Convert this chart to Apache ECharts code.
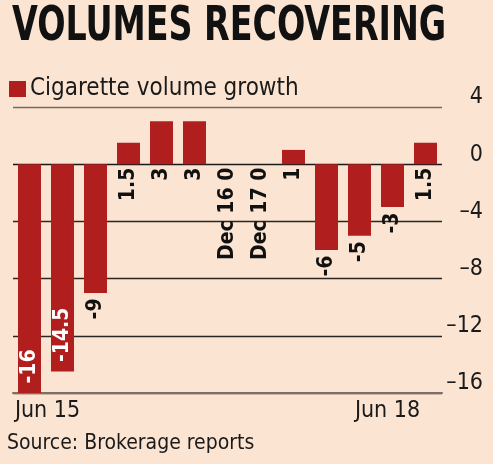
<!DOCTYPE html>
<html><head><meta charset="utf-8">
<script src="https://cdn.jsdelivr.net/npm/echarts@6/dist/echarts.min.js"></script>
<style>html,body{margin:0;padding:0;background:#fbe4d2;}#c{width:493px;height:464px;}</style>
</head><body><div id="c"></div>
<script>
const periods = ['Jun 15','Sep 15','Dec 15','Mar 16','Jun 16','Sep 16','Dec 16','Mar 17','Jun 17','Sep 17','Dec 17','Mar 18','Jun 18'];
const xTickLabels = ['Jun 15','','','','','','','','','','','','Jun 18'];
const growth = [-16, -14.5, -9, 1.5, 3, 3, 0, 0, 1, -6, -5, -3, 1.5];
const barLabels = ['-16','-14.5','-9','1.5','3','3','Dec 16 0','Dec 17 0','1','-6','-5','-3','1.5'];
const yTicks = [4, 0, -4, -8, -12, -16];

const NARROW = '"Liberation Sans Narrow","DejaVu Sans Condensed","Roboto Condensed",Roboto,sans-serif';
const LABELF = '"DejaVu Sans Condensed","DejaVu Sans",sans-serif';
const RED = '#b01f1d';

const labelData = growth.map((v, i) => {
  const inside = v <= -14;
  const outsideNeg = v < 0 && !inside;
  return {
    value: [i, Math.min(v, 0)],
    label: {
      show: true,
      formatter: barLabels[i],
      rotate: 90,
      position: inside ? 'top' : 'bottom',
      distance: inside ? 9 : (outsideNeg ? 5 : 3),
      align: inside ? 'left' : 'right',
      verticalAlign: 'middle',
      color: inside ? '#ffffff' : '#111111',
      fontFamily: LABELF,
      fontSize: 21,
      fontWeight: 'bold'
    }
  };
});

const chart = echarts.init(document.getElementById('c'));
chart.setOption({
  backgroundColor: '#fbe4d2',
  animation: false,
  title: [
    { text: 'Source: Brokerage reports', left: 2, top: 428,
      textStyle: { fontFamily: NARROW, fontSize: 21, fontWeight: 'normal', color: '#1a1a1a' } }
  ],
  graphic: [
    { type: 'text', x: 12, y: 4, scaleX: 0.772, silent: true,
      style: { text: 'VOLUMES RECOVERING', fontFamily: NARROW, fontSize: 48, fontWeight: 'bold',
               fill: '#111', align: 'left', verticalAlign: 'top' } }
  ],
  legend: {
    left: 4, top: 72, icon: 'rect', itemWidth: 17, itemHeight: 16, itemGap: 6,
    textStyle: { fontFamily: NARROW, fontSize: 24, color: '#1a1a1a', padding: [0,0,0,-1] },
    data: ['Cigarette volume growth']
  },
  grid: { left: 13, right: 51, top: 107, bottom: 71, containLabel: false },
  xAxis: {
    type: 'category', data: periods,
    axisLine: { onZero: false, lineStyle: { color: '#7d6f66', width: 2 } },
    axisTick: { show: false },
    axisLabel: {
      interval: 0, margin: 7,
      formatter: (val, idx) => {
        const t = xTickLabels[idx];
        if (!t) return '';
        return idx === 0 ? '{a|' + t + '}' : '{b|' + t + '}';
      },
      rich: {
        a: { fontFamily: NARROW, fontSize: 23, color: '#1a1a1a', padding: [0,0,0,36] },
        b: { fontFamily: NARROW, fontSize: 23, color: '#1a1a1a', padding: [0,76,0,0] }
      }
    }
  },
  yAxis: {
    type: 'value', position: 'right', min: -16, max: 4, interval: 4,
    axisLine: { show: false }, axisTick: { show: false },
    splitLine: { show: true, lineStyle: {
      color: ['#3b302a','#2b2522','#2b2522','#2b2522','#1a1a1a','#7a6a5e'], width: 1.3 } },
    axisLabel: {
      align: 'right', margin: 41, verticalAlign: 'bottom', lineHeight: 19,
      fontFamily: NARROW, fontSize: 23, color: '#1a1a1a',
      formatter: v => yTicks.includes(v) ? String(v).replace('-', '\u2013') : ''
    }
  },
  series: [
    { name: 'Cigarette volume growth', type: 'bar', data: growth, barWidth: 23,
      itemStyle: { color: RED } },
    { name: 'labels', type: 'scatter', data: labelData, symbolSize: 1, silent: true, z: 5,
      itemStyle: { color: 'rgba(0,0,0,0)', opacity: 1 } }
  ]
});
</script></body></html>
